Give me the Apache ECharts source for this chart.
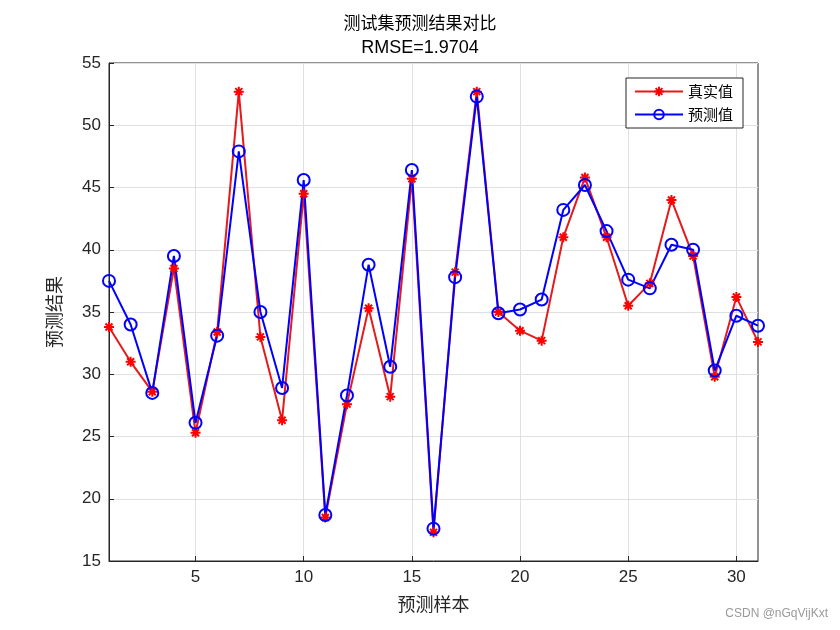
<!DOCTYPE html><html><head><meta charset="utf-8">
<script src="https://cdn.jsdelivr.net/npm/echarts@6/dist/echarts.min.js"></script>
<style>html,body{margin:0;background:#fff}#c{width:840px;height:630px}</style></head><body><div id="c"></div><script>
const samples=[1,2,3,4,5,6,7,8,9,10,11,12,13,14,15,16,17,18,19,20,21,22,23,24,25,26,27,28,29,30,31];
const trueVals=[33.8,31,28.6,38.5,25.3,33.4,52.7,33,26.3,44.5,18.5,27.6,35.3,28.2,45.7,17.3,38.2,52.7,35,33.5,32.7,41,45.8,41,35.5,37.3,44,39.5,29.8,36.2,32.6];
const predVals=[37.5,34,28.5,39.5,26.1,33.1,47.9,35,28.9,45.6,18.7,28.3,38.8,30.6,46.4,17.6,37.8,52.3,34.9,35.2,36,43.2,45.2,41.5,37.6,36.9,40.4,40,30.3,34.7,33.9];
const xTicks=[5,10,15,20,25,30];
const star='path://M0,-10L0,10M-10,0L10,0M-7,-7L7,7M-7,7L7,-7';
const ch=echarts.init(document.getElementById('c'));
const ax={color:'#262626',fontSize:17,fontFamily:'Arial'};
ch.setOption({
 animation:false,
 title:{text:'{a|测试集预测结果对比}\n{b|RMSE=1.9704}',left:'center',top:6,textStyle:{fontWeight:'normal',rich:{
   a:{fontSize:17,color:'#000',fontFamily:'Noto Sans CJK SC',fontWeight:'normal',lineHeight:24},
   b:{fontSize:18,color:'#000',fontFamily:'Arial',fontWeight:'normal',lineHeight:26}}}},
 legend:{right:97,top:78,orient:'vertical',itemWidth:48,itemHeight:12,itemGap:8,backgroundColor:'#fff',borderColor:'#262626',borderWidth:1,borderRadius:0,padding:[6,10,6,8],textStyle:{fontSize:15,color:'#000',fontFamily:'Noto Sans CJK SC'},data:['真实值','预测值']},
 grid:{left:109,right:82,top:63,bottom:69,show:true,borderColor:'#262626',borderWidth:1},
 xAxis:{type:'value',min:1,max:31,name:'预测样本',nameLocation:'middle',nameGap:34,nameTextStyle:{fontSize:18,color:'#262626',fontFamily:'Noto Sans CJK SC'},
  axisLine:{lineStyle:{color:'#262626'}},axisTick:{inside:true,customValues:xTicks,lineStyle:{color:'#262626'}},
  axisLabel:Object.assign({customValues:xTicks},ax),splitLine:{show:true,lineStyle:{color:'#e0e0e0'}}},
 yAxis:{type:'value',min:15,max:55,interval:5,name:'预测结果',nameLocation:'middle',nameGap:46,nameTextStyle:{fontSize:18,color:'#262626',fontFamily:'Noto Sans CJK SC'},
  axisLine:{show:true,lineStyle:{color:'#262626'}},axisTick:{show:true,inside:true,lineStyle:{color:'#262626'}},axisLabel:ax,splitLine:{lineStyle:{color:'#e0e0e0'}}},
 series:[
  {name:'真实值',type:'line',data:samples.map((s,i)=>[s,trueVals[i]]),symbol:star,symbolSize:10,showAllSymbol:true,
   lineStyle:{color:'#e41a1c',width:2},itemStyle:{color:'#ff0000',borderColor:'#ff0000',borderWidth:2}},
  {name:'预测值',type:'line',data:samples.map((s,i)=>[s,predVals[i]]),symbol:'circle',symbolSize:12,showAllSymbol:true,
   lineStyle:{color:'#0000ff',width:2},itemStyle:{color:'rgba(0,0,0,0)',borderColor:'#0000ff',borderWidth:2}}
 ],
 graphic:[{type:'text',right:12,bottom:10,style:{text:'CSDN @nGqVijKxt',fill:'#999',fontSize:12,fontFamily:'Arial'}}]
});
</script></body></html>
